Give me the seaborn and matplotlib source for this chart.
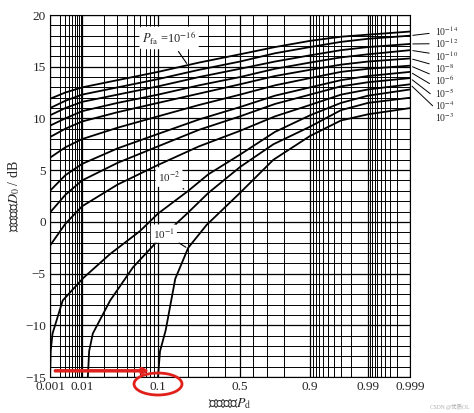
import numpy as np
import pandas as pd
import seaborn as sns
import matplotlib.pyplot as plt
from matplotlib.patches import Ellipse

sns.set_style("white")
plt.rcParams['font.family'] = ['Liberation Serif', 'Noto Sans CJK SC', 'DejaVu Sans']
plt.rcParams['mathtext.fontset'] = 'stix'

# 曲线数据：检测概率 -> 检测因子 dB
pd_std = [0.001, 0.003, 0.01, 0.03, 0.1, 0.25, 0.5, 0.75, 0.9, 0.97, 0.99, 0.999]
curve_A = [11.9, 12.5, 13.0, 13.7, 14.5, 15.4, 16.2, 16.9, 17.5, 17.9, 18.1, 18.4]   # 1e-16
curve_B = [11.0, 11.7, 12.3, 13.0, 13.8, 14.7, 15.5, 16.3, 16.9, 17.4, 17.7, 18.0]   # 1e-14
curve_C = [10.3, 11.0, 11.6, 12.3, 13.1, 14.0, 14.8, 15.5, 16.1, 16.6, 16.9, 17.2]   # 1e-12
curve_D = [9.3, 10.0, 10.7, 11.5, 12.3, 13.2, 14.0, 14.8, 15.4, 15.9, 16.2, 16.6]    # 1e-10
curve_E = [8.2, 9.0, 9.7, 10.6, 11.5, 12.4, 13.3, 14.1, 14.7, 15.2, 15.5, 15.8]      # 1e-8
curve_F = [6.2, 7.2, 8.0, 9.1, 10.2, 11.3, 12.3, 13.2, 13.9, 14.5, 14.8, 15.1]       # 1e-6
curve_G = [3.0, 4.5, 5.6, 7.1, 8.5, 9.9, 11.1, 12.2, 13.0, 13.7, 14.1, 14.5]         # 1e-5
curve_H = [0.9, 2.6, 4.0, 5.7, 7.3, 8.9, 10.2, 11.4, 12.3, 13.1, 13.5, 13.9]         # 1e-4
curve_I = [-2.3, -0.2, 1.5, 3.6, 5.5, 7.3, 8.8, 10.2, 11.3, 12.3, 12.8, 13.3]        # 1e-3
pd_J = [0.001, 0.00105, 0.0012, 0.0025, 0.0105, 0.024, 0.059, 0.1, 0.2, 0.3, 0.5,
        0.75, 0.9, 0.97, 0.99, 0.999]
curve_J = [-15, -12.5, -10.8, -7.6, -5.4, -3.1, -0.9, 0.8, 3.0, 4.6, 6.5,
           8.7, 10.3, 11.5, 12.2, 12.8]
pd_K = [0.012, 0.0125, 0.014, 0.024, 0.048, 0.1, 0.195, 0.3, 0.5, 0.74, 0.9, 0.97, 0.99, 0.999]
curve_K = [-15, -12.5, -10.8, -7.6, -4.4, -1.8, 0.8, 2.8, 5.3, 7.5, 9.2, 10.8, 11.5, 12.0]
pd_L = [0.1, 0.105, 0.12, 0.15, 0.2, 0.29, 0.5, 0.74, 0.9, 0.97, 0.99, 0.999]
curve_L = [-15, -12.5, -10.5, -5.5, -2.5, -0.3, 2.8, 6.0, 8.3, 9.8, 10.4, 11.0]

right_labels = ['14', '12', '10', '8', '6', '5', '4', '3']
tick_vals = [0.001, 0.01, 0.1, 0.5, 0.9, 0.99, 0.999]
tick_text = ['0.001', '0.01', '0.1', '0.5', '0.9', '0.99', '0.999']

rows = []
for name, ys in zip('ABCDEFGHI', [curve_A, curve_B, curve_C, curve_D, curve_E,
                                  curve_F, curve_G, curve_H, curve_I]):
    rows += [(name, x, y) for x, y in zip(pd_std, ys)]
for name, xs, ys in [('J', pd_J, curve_J), ('K', pd_K, curve_K), ('L', pd_L, curve_L)]:
    rows += [(name, x, y) for x, y in zip(xs, ys)]
df = pd.DataFrame(rows, columns=['curve', 'Pd', 'D0'])

# 概率坐标（按图中刻度位置分段）
anchor_pos = np.array([0, 32, 108, 190, 260, 318, 360], dtype=float)
anchor_lg = np.log(np.array(tick_vals) / (1 - np.array(tick_vals)))

def fwd(p):
    p = np.clip(p, 1e-6, 1 - 1e-6)
    return np.interp(np.log(p / (1 - p)), anchor_lg, anchor_pos)

def inv(v):
    lg = np.interp(v, anchor_pos, anchor_lg)
    return 1 / (1 + np.exp(-lg))

fig = plt.figure(figsize=(4.74, 4.13), dpi=100)
ax = fig.add_axes([50/474, 36/413, 360/474, 362/413])
ax.set_xscale('function', functions=(fwd, inv))

sns.lineplot(data=df, x='Pd', y='D0', units='curve', estimator=None, color='black',
             lw=1.3, sort=True, ax=ax, legend=False)

ax.set_xlim(0.001, 0.999)
ax.set_ylim(-15, 20)
minor_x = ([i/1000 for i in range(2, 10)] + [i/100 for i in range(2, 10)] +
           [i/10 for i in range(2, 10)] + [0.95] + [i/100 for i in range(91, 100)] +
           [i/1000 for i in range(991, 999)])
ax.set_xticks(tick_vals)
ax.set_xticklabels(tick_text)
ax.set_xticks(minor_x, minor=True)
ax.set_yticks(range(-15, 21, 5))
ax.set_yticklabels(['\u221215', '\u221210', '\u22125', '0', '5', '10', '15', '20'])
ax.set_yticks(range(-15, 21), minor=True)
ax.grid(which='major', color='black', lw=0.9)
ax.grid(which='minor', color='black', lw=0.7)
ax.tick_params(which='both', length=0, labelsize=9.5, pad=3)
for s in ax.spines.values():
    s.set_color('black')
ax.set_xlabel('检测概率$P_\\mathrm{d}$', fontsize=10, labelpad=2)
ax.set_ylabel('检测因子$D_0$ / dB', fontsize=10, labelpad=2)

box = dict(boxstyle='round,pad=0.2', fc='white', ec='none')
ax.annotate('$P_\\mathrm{fa}$ =10$^{-16}$', xy=(0.2, 15.1), xytext=(0.13, 17.3),
            fontsize=9, bbox=box, ha='center',
            arrowprops=dict(arrowstyle='-', color='black', lw=0.8))
ax.annotate('10$^{-2}$', xy=(0.19, 3.0), xytext=(0.13, 3.9), fontsize=8, bbox=box,
            ha='center', arrowprops=dict(arrowstyle='-', color='black', lw=0.8))
ax.annotate('10$^{-1}$', xy=(0.2, -2.6), xytext=(0.115, -1.6), fontsize=8, bbox=box,
            ha='center', arrowprops=dict(arrowstyle='-', color='black', lw=0.8))

ends = [curve_B[-1], curve_C[-1], curve_D[-1], curve_E[-1], curve_F[-1],
        curve_G[-1], curve_H[-1], curve_I[-1]]
for i, (lab, yv) in enumerate(zip(right_labels, ends)):
    ax.annotate('10$^{-%s}$' % lab, xy=(0.999, yv), xycoords='data',
                xytext=(1.07, 0.955 - i * 0.034), textcoords='axes fraction',
                fontsize=7, va='center', annotation_clip=False,
                arrowprops=dict(arrowstyle='-', color='black', lw=0.7))

# 红色标注
ax.annotate('', xy=(0.085, -14.4), xytext=(0.0012, -14.4), annotation_clip=False,
            arrowprops=dict(arrowstyle='-|>', color='#e0201a', lw=2.5, mutation_scale=8))
fig.patches.append(Ellipse((158/474, 1 - 384/413), 48/474, 22/413, fill=False,
                           ec='#e0201a', lw=2, transform=fig.transFigure))
fig.text(0.99, 0.01, 'CSDN @优质OL', fontsize=4, color='#aaaaaa', ha='right')

fig.savefig('out.png', dpi=100)
